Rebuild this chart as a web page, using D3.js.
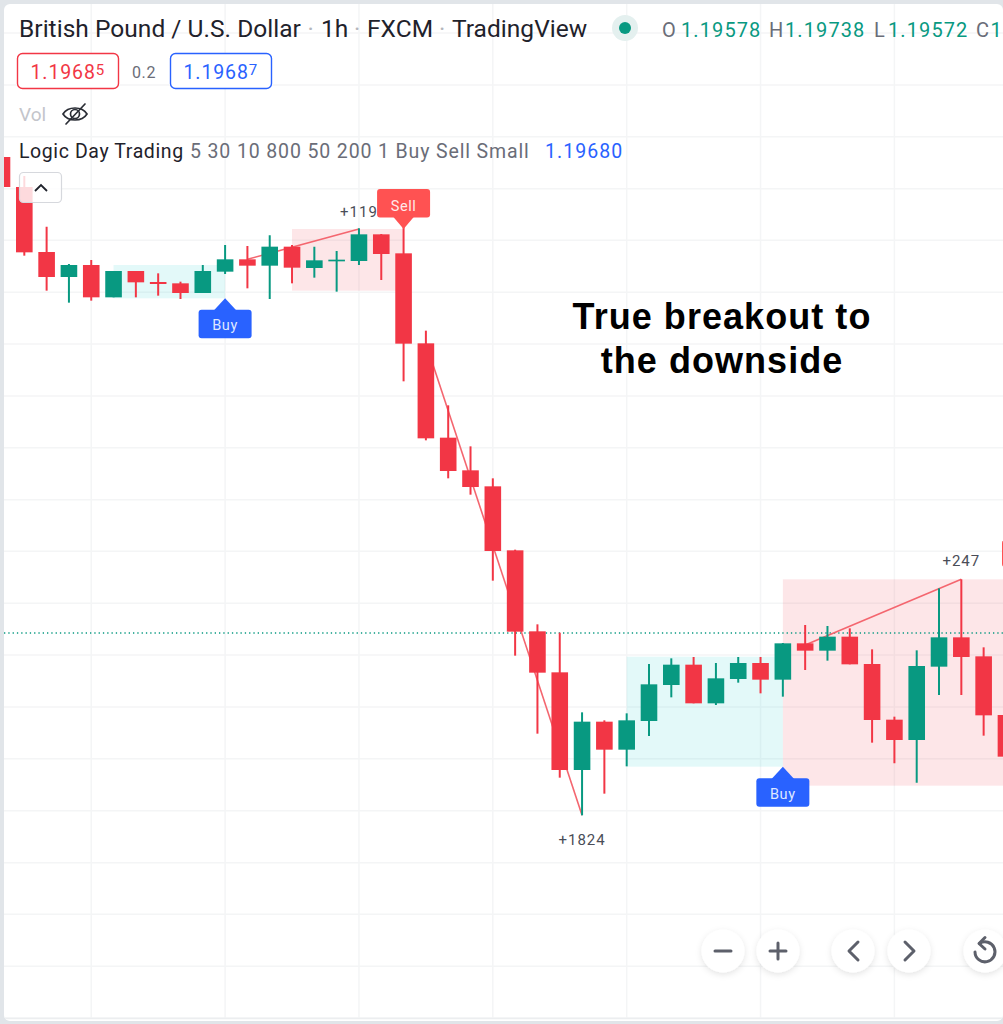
<!DOCTYPE html>
<html>
<head>
<meta charset="utf-8">
<script src="https://cdn.jsdelivr.net/npm/d3@7"></script>
<style>
html,body{margin:0;padding:0;background:#fff;overflow:hidden}
svg{display:block}
text{font-family:Roboto,Inter,"Noto Sans",sans-serif}
</style>
</head>
<body>
<script>
// GBP/USD hourly candles, oldest first
const opens  = [1.21108,1.21018,1.20823,1.20748,1.20784,1.20687,1.20766,1.20733,1.20729,1.20700,1.20764,1.20801,1.20782,1.20839,1.20775,1.20795,1.20796,1.20876,1.20819,1.20549,1.20266,1.20168,1.20120,1.19928,1.19685,1.19562,1.19269,1.19414,1.19330,1.19416,1.19524,1.19585,1.19469,1.19542,1.19590,1.19540,1.19649,1.19627,1.19669,1.19587,1.19420,1.19359,1.19579,1.19667,1.19610,1.19434];
const highs  = [1.21108,1.21051,1.20899,1.20787,1.20799,1.20766,1.20766,1.20759,1.20734,1.20784,1.20844,1.20841,1.20873,1.20844,1.20839,1.20826,1.20894,1.20877,1.20899,1.20587,1.20363,1.20240,1.20144,1.19930,1.19706,1.19681,1.19442,1.19418,1.19439,1.19587,1.19604,1.19608,1.19590,1.19608,1.19608,1.19650,1.19704,1.19701,1.19694,1.19631,1.19429,1.19628,1.19814,1.19841,1.19637,1.19434];
const lows   = [1.21018,1.20812,1.20707,1.20671,1.20677,1.20687,1.20687,1.20692,1.20682,1.20700,1.20757,1.20714,1.20682,1.20729,1.20746,1.20704,1.20784,1.20739,1.20435,1.20258,1.20144,1.20095,1.19837,1.19612,1.19378,1.19246,1.19133,1.19198,1.19280,1.19371,1.19487,1.19469,1.19464,1.19531,1.19499,1.19489,1.19569,1.19597,1.19586,1.19351,1.19289,1.19231,1.19494,1.19494,1.19372,1.19269];
const closes = [1.21018,1.20822,1.20748,1.20784,1.20687,1.20766,1.20732,1.20727,1.20700,1.20766,1.20801,1.20782,1.20839,1.20776,1.20798,1.20800,1.20876,1.20817,1.20548,1.20264,1.20166,1.20118,1.19926,1.19684,1.19561,1.19269,1.19414,1.19330,1.19418,1.19526,1.19585,1.19469,1.19544,1.19590,1.19540,1.19649,1.19627,1.19669,1.19586,1.19419,1.19359,1.19581,1.19667,1.19608,1.19433,1.19309];

// Session boxes: first bar, last bar, top price, bottom price
const boxKinds  = ["long","short","long","short"];
const boxStarts = [5,13,28,35];
const boxEnds   = [10,18,35,47];
const boxTops   = [1.20784,1.20892,1.19609,1.19841];
const boxBottoms= [1.20684,1.20707,1.19279,1.19222];

// Swing lines joining entry to extreme
const swingFromBar   = [11,19,36];
const swingFromPrice = [1.20801,1.20549,1.19644];
const swingToBar     = [16,26,43];
const swingToPrice   = [1.20892,1.19133,1.19841];

// Signal tags and profit labels
const signalBars   = [18,10,35];
const signalPrices = [1.20892,1.20684,1.19279];
const signalTexts  = ["Sell","Buy","Buy"];
const profitBars   = [16,26,43];
const profitPrices = [1.20892,1.19133,1.19841];
const profitTexts  = ["+119","+1824","+247"];

const lastPrice = 1.19680;
const gridPrices = [1.21480,1.21324,1.21169,1.21013,1.20858,1.20702,1.20547,1.20391,1.20236,1.20080,1.19925,1.19769,1.19614,1.19458,1.19303,1.19147,1.18991,1.18836,1.18680,1.18525];
const gridBars = [4,10,16,22,28,34,40];

const W = 1003, H = 1024;
const RED = "#f23645", GREEN = "#089981", BLUE = "#2962ff";
const x = d3.scaleLinear().domain([0,45]).range([2,1005.95]);
const y = d3.scaleLinear().domain([1.21579,1.18507]).range([0,1024]);

const svg = d3.select("body").append("svg").attr("width",W).attr("height",H).attr("viewBox",[0,0,W,H]);
const defs = svg.append("defs");
defs.append("clipPath").attr("id","pane").append("rect").attr("x",4).attr("y",4).attr("width",W-4).attr("height",1017).attr("rx",6);
const shadow = defs.append("filter").attr("id","btnShadow").attr("x","-40%").attr("y","-40%").attr("width","180%").attr("height","180%");
shadow.append("feDropShadow").attr("dx",0).attr("dy",2).attr("stdDeviation",3).attr("flood-color","#000").attr("flood-opacity",0.11);

// Window frame behind the chart pane
svg.append("rect").attr("width",W).attr("height",H).attr("fill","#e1e5e9");
const pane = svg.append("g").attr("clip-path","url(#pane)");
pane.append("rect").attr("x",4).attr("y",4).attr("width",W).attr("height",1020).attr("fill","#fff");

// Grid
pane.append("g").selectAll("line").data(gridPrices).join("line")
  .attr("x1",4).attr("x2",W).attr("y1",d=>y(d)).attr("y2",d=>y(d))
  .attr("stroke","#f4f5f6").attr("stroke-width",1.5);
pane.append("g").selectAll("line").data(gridBars).join("line")
  .attr("x1",d=>x(d)).attr("x2",d=>x(d)).attr("y1",0).attr("y2",1019)
  .attr("stroke","#f4f5f6").attr("stroke-width",1.5);

// Session boxes
pane.append("g").selectAll("rect").data(boxKinds).join("rect")
  .attr("x",(d,i)=>x(boxStarts[i])).attr("width",(d,i)=>x(boxEnds[i])-x(boxStarts[i]))
  .attr("y",(d,i)=>y(boxTops[i])).attr("height",(d,i)=>y(boxBottoms[i])-y(boxTops[i]))
  .attr("fill",d=>d==="long"?"#22d3d3":"#f23645").attr("fill-opacity",0.125);

// Last price line
pane.append("line").attr("x1",4).attr("x2",W).attr("y1",y(lastPrice)).attr("y2",y(lastPrice))
  .attr("stroke",GREEN).attr("stroke-width",1.3).attr("stroke-dasharray","1.3 3");

// Swing lines
pane.append("g").selectAll("line").data(swingFromBar).join("line")
  .attr("x1",d=>x(d)).attr("y1",(d,i)=>y(swingFromPrice[i]))
  .attr("x2",(d,i)=>x(swingToBar[i])).attr("y2",(d,i)=>y(swingToPrice[i]))
  .attr("stroke","#f4666f").attr("stroke-width",1.6);

// Candles
const candles = pane.append("g").selectAll("g").data(opens).join("g")
  .attr("fill",(d,i)=>closes[i]>=d?GREEN:RED).attr("stroke",(d,i)=>closes[i]>=d?GREEN:RED);
candles.append("line")
  .attr("x1",(d,i)=>x(i)).attr("x2",(d,i)=>x(i))
  .attr("y1",(d,i)=>y(highs[i])).attr("y2",(d,i)=>y(lows[i]))
  .attr("stroke-width",2);
candles.append("rect").attr("stroke","none")
  .attr("x",(d,i)=>x(i)-8.3).attr("width",16.6)
  .attr("y",(d,i)=>y(Math.max(d,closes[i])))
  .attr("height",(d,i)=>Math.max(1.5,y(Math.min(d,closes[i]))-y(Math.max(d,closes[i]))));

// Profit labels sit beyond the swing extreme
const profitOffsets = [-12.5,30,-13];
pane.append("g").selectAll("text").data(profitTexts).join("text")
  .attr("x",(d,i)=>x(profitBars[i])).attr("text-anchor","middle")
  .attr("y",(d,i)=>y(profitPrices[i])+profitOffsets[i])
  .attr("font-size",15).attr("letter-spacing",1).attr("fill","#4a4d57").text(d=>d);

// Signal tags: a rounded label with a small pointer toward the bar
signalTexts.forEach((label,i)=>{
  const cx = x(signalBars[i]), tip = y(signalPrices[i]), isSell = label==="Sell";
  const fill = isSell ? "#ff5252" : BLUE;
  const g = pane.append("g");
  if(isSell){
    g.append("path").attr("d",`M${cx-11},${tip-13} L${cx},${tip} L${cx+11},${tip-13} Z`).attr("fill",fill);
    g.append("rect").attr("x",cx-26.5).attr("y",tip-40).attr("width",53).attr("height",28.5).attr("rx",3).attr("fill",fill);
    g.append("text").attr("x",cx).attr("y",tip-18).attr("text-anchor","middle").attr("font-size",14.5).attr("letter-spacing",0.6).attr("fill","#ffe9e9").text(label);
  } else {
    g.append("path").attr("d",`M${cx-12},${tip+13} L${cx},${tip} L${cx+12},${tip+13} Z`).attr("fill",fill);
    g.append("rect").attr("x",cx-26.5).attr("y",tip+11.5).attr("width",53).attr("height",28.5).attr("rx",3).attr("fill",fill);
    g.append("text").attr("x",cx).attr("y",tip+32).attr("text-anchor","middle").attr("font-size",14.5).attr("letter-spacing",0.6).attr("fill","#dfe8ff").text(label);
  }
});
// Next signal tag entering at the right edge
pane.append("rect").attr("x",1002).attr("y",540).attr("width",20).attr("height",27).attr("rx",3).attr("fill","#ff5252");

// Collapse button over the first candles
pane.append("rect").attr("x",19.5).attr("y",172.5).attr("width",42).attr("height",30).attr("rx",4)
  .attr("fill","#fff").attr("fill-opacity",0.82).attr("stroke","#d6d8dd").attr("stroke-width",1.2);
pane.append("path").attr("d","M35,191 L41,185 L47,191").attr("fill","none").attr("stroke","#1f222b").attr("stroke-width",1.8);

// Header: symbol title
function txt(xp,yp,size,fill,s,extra){
  const t = pane.append("text").attr("x",xp).attr("y",yp).attr("font-size",size).attr("fill",fill).text(s);
  if(extra) Object.entries(extra).forEach(([k,v])=>t.attr(k,v));
  return t;
}
const titleParts = [["British Pound / U.S. Dollar",19],["1h",321],["FXCM",367],["TradingView",452]];
titleParts.forEach(([s,xp])=>txt(xp,37,24.5,"#1f222b",s,{"letter-spacing":0.03}));
[307.5,354,439].forEach(xp=>txt(xp,37,24,"#b4b6bc","·"));

// Status dot
pane.append("circle").attr("cx",625).attr("cy",28).attr("r",13).attr("fill","#e4f0ef");
pane.append("circle").attr("cx",625).attr("cy",28).attr("r",6).attr("fill",GREEN);

// OHLC readout
const ohlc = [["O",662,"1.19578",681],["H",769,"1.19738",785],["L",874,"1.19572",888]];
ohlc.forEach(([k,kx,v,vx])=>{
  txt(kx,37,20,"#6a6d78",k);
  txt(vx,37,20,"#089981",v,{"letter-spacing":1.1});
});
txt(976,37,20,"#6a6d78","C");
txt(990.5,37,20,"#089981","1");

// Bid and ask boxes
function priceBox(bx,bw,color,main,sup){
  pane.append("rect").attr("x",bx).attr("y",53.5).attr("width",bw).attr("height",35).attr("rx",5)
    .attr("fill","#fff").attr("stroke",color).attr("stroke-width",1.4);
  const t = txt(bx+13,78.5,19.5,color,main,{"letter-spacing":0.9});
  t.append("tspan").attr("dy",-4).attr("font-size",15).attr("dx",0).text(sup);
}
priceBox(17.5,101,"#f23645","1.1968","5");
txt(132,77.5,16,"#6a6d78","0.2",{"letter-spacing":0.6});
priceBox(170.5,101,"#2962ff","1.1968","7");

// Volume row with hidden-eye icon
txt(19,120.5,19,"#c3c5cb","Vol");
const eye = pane.append("g").attr("fill","none").attr("stroke","#2b2e36").attr("stroke-width",1.7).attr("stroke-linecap","round");
eye.append("path").attr("d","M63,114 C68,106 82,106 87,114 C82,122 68,122 63,114 Z");
eye.append("circle").attr("cx",75).attr("cy",114).attr("r",4.5);
eye.append("path").attr("d","M66,124 L85,104");

// Indicator legend line
txt(19,157.5,19.5,"#1f222b","Logic Day Trading",{"letter-spacing":0.6});
txt(190,157.5,19.5,"#6a6d78","5 30 10 800 50 200 1 Buy Sell Small",{"letter-spacing":0.87});
txt(545,157.5,19.5,"#2962ff","1.19680",{"letter-spacing":1.05});

// Callout
["True breakout to","the downside"].forEach((line,i)=>{
  pane.append("text").attr("x",722).attr("y",329+i*44).attr("text-anchor","middle")
    .style("font-family","'Liberation Sans',Arial,sans-serif").attr("font-weight",700)
    .attr("font-size",36).attr("letter-spacing",1.05).attr("fill","#000").text(line);
});

// Navigation buttons
const navButtons = [723,778,853,909,985];
pane.append("g").selectAll("circle").data(navButtons).join("circle")
  .attr("cx",d=>d).attr("cy",951).attr("r",21.5).attr("fill","#fff").attr("filter","url(#btnShadow)");
const nav = pane.append("g").attr("fill","none").attr("stroke","#5d606b").attr("stroke-width",3).attr("stroke-linecap","round").attr("stroke-linejoin","round");
nav.append("path").attr("d","M715,951 H731");
nav.append("path").attr("d","M770,951 H786 M778,943 V959");
nav.append("path").attr("d","M858,942 L849,951 L858,960");
nav.append("path").attr("d","M905,942 L914,951 L905,960");
nav.append("path").attr("d","M979.5,943.5 A10,10 0 1 1 975,952");
nav.append("path").attr("d","M985,937.5 L979,943.5 L985,949");

// Pane bottom edge
pane.append("line").attr("x1",4).attr("x2",W).attr("y1",1018.5).attr("y2",1018.5).attr("stroke","#eceef0").attr("stroke-width",1.5);
</script>
</body>
</html>
